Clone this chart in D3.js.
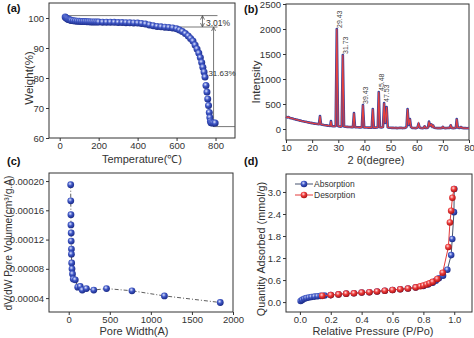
<!DOCTYPE html>
<html>
<head>
<meta charset="utf-8">
<script src="https://cdnjs.cloudflare.com/ajax/libs/d3/7.8.5/d3.min.js"></script>
<style>
  body { margin: 0; background: #fff; }
  svg { display: block; font-family: "Liberation Sans", Arial, sans-serif; }
  .tick text { fill: #333; }
  .tick line { stroke: #333; }
</style>
</head>
<body>
<div id="fig"></div>
<script>
// (a) TGA
var tgaTemp = [28,32,36,40,45,50,55,60,70,80,90,100,110,120,130,140,150,160,170,180,190,200,220,240,260,280,300,320,340,360,380,400,420,440,460,480,500,520,540,560,580,600,615,630,645,660,672,684,695,705,714,722,729,735,741,746,751,756,760,764,768,771,774,777,782,790,798];
var tgaWeight = [100.3,100.1,99.9,99.7,99.5,99.4,99.3,99.2,99.1,99.0,98.95,98.9,98.85,98.8,98.8,98.75,98.75,98.7,98.7,98.7,98.65,98.65,98.6,98.6,98.6,98.55,98.5,98.5,98.45,98.4,98.35,98.3,98.2,98.0,97.7,97.4,97.2,97.05,96.95,96.85,96.7,96.4,96.0,95.5,94.8,94.0,93.2,92.3,91.0,89.7,88.3,86.8,85.2,83.6,82.0,80.3,77.5,75.3,73.0,70.8,68.5,66.8,65.6,65.1,65.0,65.0,65.0];
var tgaTicksX = [0, 200, 400, 600, 800];
var tgaTicksY = [60, 70, 80, 90, 100];

// (b) XRD
var xrdAngle = [10.0,10.5,11.0,11.5,12.0,12.5,13.0,13.5,14.0,14.5,15.0,15.5,16.0,16.5,17.0,17.5,18.0,18.5,19.0,19.5,20.0,20.5,21.0,21.5,22.0,22.6,23.0,23.4,24.0,24.5,25.0,25.5,26.0,26.5,26.9,27.2,27.5,28.0,28.5,29.0,29.43,29.9,30.4,31.0,31.3,31.73,32.2,32.8,33.5,34.0,34.5,35.0,35.6,36.0,36.4,37.0,37.5,38.0,38.5,39.0,39.43,39.9,40.5,41.0,41.5,42.0,42.8,43.2,43.6,44.2,44.8,45.1,45.48,45.9,46.5,47.1,47.53,47.95,48.5,48.9,49.5,50.0,50.5,51.0,51.5,52.0,52.5,53.0,53.5,54.0,54.5,55.0,55.5,56.1,56.5,56.9,57.4,57.8,58.3,59.0,59.5,60.0,60.3,60.7,61.1,61.6,62.2,62.7,63.0,63.4,64.0,64.3,64.7,65.1,65.6,66.0,66.3,66.7,67.3,68.0,68.6,69.2,69.7,70.0,70.4,71.0,71.6,72.2,72.6,73.0,73.4,74.0,74.6,75.0,75.3,75.7,76.3,77.0,77.4,78.0,78.6,79.2,80.0];
var xrdCount = [245,232,238,222,215,208,200,196,185,182,172,168,160,156,148,146,138,132,128,122,118,112,108,104,100,95,260,92,86,80,76,72,68,65,62,160,60,56,54,60,2000,60,50,48,55,1480,52,45,42,40,40,38,38,320,36,34,34,32,32,34,480,32,30,30,28,28,28,400,28,27,30,35,740,35,30,40,520,120,440,35,26,24,22,22,20,22,18,20,22,24,18,20,22,40,400,80,200,40,22,20,18,22,30,110,30,20,18,20,55,20,22,30,150,60,95,40,70,25,20,18,20,18,20,45,20,18,20,22,22,75,22,18,20,30,200,30,20,40,22,18,20,16,18];
var peakLabel = ["29.43", "31.73", "39.43", "45.48", "47.53"];
var peakAngle = [29.43, 31.73, 39.43, 45.48, 47.53];
var peakTop = [2000, 1480, 480, 740, 520];
var xrdTicksX = [10, 20, 30, 40, 50, 60, 70, 80];
var xrdTicksY = [0, 500, 1000, 1500, 2000, 2500];

// (c) pore size distribution
var poreWidth = [24,25,27,27,30,30,33,33,36,40,46,55,80,110,140,165,215,305,460,770,1165,1845];
var poreVolume = [0.000195,0.000173,0.000154,0.000140,0.000129,0.000118,0.000107,0.000100,0.000088,0.000080,0.000073,0.000066,0.000065,0.000055,0.000056,0.000051,0.000053,0.000051,0.000053,0.000050,0.000043,0.000034];
var poreTicksX = [0, 500, 1000, 1500, 2000];
var poreTicksY = [0.00004, 0.00008, 0.00012, 0.00016, 0.00020];

// (d) isotherm
var absPressure = [0.005,0.015,0.028,0.042,0.058,0.075,0.095,0.115,0.135,0.16,0.2,0.25,0.3,0.35,0.4,0.45,0.5,0.55,0.6,0.65,0.7,0.75,0.8,0.83,0.86,0.88,0.9,0.927,0.955,0.98,0.987,0.998,1.0];
var absQuantity = [0.03,0.06,0.09,0.11,0.125,0.14,0.15,0.16,0.17,0.18,0.19,0.21,0.23,0.24,0.26,0.27,0.29,0.31,0.33,0.35,0.37,0.40,0.44,0.48,0.53,0.58,0.65,0.72,0.88,1.28,1.72,2.45,3.08];
var desPressure = [0.145,0.2,0.25,0.3,0.35,0.4,0.45,0.5,0.55,0.6,0.65,0.7,0.75,0.78,0.8,0.82,0.84,0.86,0.89,0.925,0.962,0.972,0.98,0.988,0.998];
var desQuantity = [0.17,0.19,0.21,0.23,0.24,0.26,0.27,0.29,0.31,0.33,0.35,0.37,0.40,0.43,0.45,0.48,0.51,0.55,0.63,0.80,1.50,2.17,2.49,2.84,3.08];
var isoTicksX = [0, 0.2, 0.4, 0.6, 0.8, 1.0];
var isoTicksY = [0, 0.6, 1.2, 1.8, 2.4, 3.0];
var seriesNames = ["Absorption", "Desorption"];

var W = 474, H = 338;
var svg = d3.select("#fig").append("svg").attr("width", W).attr("height", H);

// sphere-like marker fills
var defs = svg.append("defs");
function ball(id, c0, c1, c2) {
    var g = defs.append("radialGradient").attr("id", id)
        .attr("cx", "40%").attr("cy", "35%").attr("r", "65%");
    g.append("stop").attr("offset", "0%").attr("stop-color", c0);
    g.append("stop").attr("offset", "45%").attr("stop-color", c1);
    g.append("stop").attr("offset", "100%").attr("stop-color", c2);
}
ball("blueBall", "#dfe5ff", "#3f57c6", "#1a2a86");
ball("redBall", "#ffe0e0", "#ee3c3c", "#a81212");

// draws a framed panel, returns the scales
function panel(box, xd, yd, xt, yt, xfmt, yfmt) {
    var x = d3.scaleLinear().domain(xd).range([box.l, box.r]);
    var y = d3.scaleLinear().domain(yd).range([box.b, box.t]);
    svg.append("g")
        .attr("transform", "translate(0," + box.b + ")")
        .call(d3.axisBottom(x).tickValues(xt).tickSize(3).tickPadding(1).tickFormat(xfmt))
        .call(function(g) { g.select(".domain").remove(); })
        .selectAll("text").style("font-size", "9.5px");
    svg.append("g")
        .attr("transform", "translate(" + box.l + ",0)")
        .call(d3.axisLeft(y).tickValues(yt).tickSize(3).tickPadding(2).tickFormat(yfmt))
        .call(function(g) { g.select(".domain").remove(); })
        .selectAll("text").style("font-size", "9.5px");
    svg.append("rect")
        .attr("x", box.l).attr("y", box.t)
        .attr("width", box.r - box.l).attr("height", box.b - box.t)
        .style("fill", "none").style("stroke", "#333").style("stroke-width", 1);
    return {x: x, y: y};
}

function label(txt, px, py, size, rot, weight) {
    var t = svg.append("text")
        .attr("x", px).attr("y", py)
        .style("font-size", size + "px")
        .style("fill", "#333")
        .style("text-anchor", "middle")
        .text(txt);
    if (rot) t.attr("transform", "rotate(-90," + px + "," + py + ")");
    if (weight) t.style("font-weight", weight).style("text-anchor", "start").style("fill", "#111");
    return t;
}

// ---------- (a)
var a = panel({l: 49, r: 235, t: 3, b: 138}, [-55, 900], [60, 105], tgaTicksX, tgaTicksY, d3.format("d"), d3.format("d"));
var tga = tgaTemp.map(function(t, i) { return [t, tgaWeight[i]]; });

// annotation lines
function seg(s, x1, y1, x2, y2) {
    svg.append("line")
        .attr("x1", s.x(x1)).attr("y1", s.y(y1))
        .attr("x2", s.x(x2)).attr("y2", s.y(y2))
        .style("stroke", "#555").style("stroke-width", 0.8);
}
function arrowHead(s, xv, yv, dir) {
    var px = s.x(xv), py = s.y(yv);
    svg.append("path")
        .attr("d", "M" + (px - 2) + "," + (py + dir * 4) + "L" + px + "," + py + "L" + (px + 2) + "," + (py + dir * 4))
        .style("fill", "none").style("stroke", "#555").style("stroke-width", 0.8);
}
seg(a, 26, 100.8, 810, 100.8);
seg(a, 600, 97.0, 810, 97.0);
seg(a, 790, 63.8, 900, 63.8);
seg(a, 733, 100.8, 733, 97.0);
arrowHead(a, 733, 100.8, 1);
arrowHead(a, 733, 97.0, -1);
seg(a, 790, 97.0, 790, 63.8);
arrowHead(a, 790, 97.0, 1);
arrowHead(a, 790, 63.8, -1);

svg.append("g").selectAll("circle")
    .data(tga)
    .enter()
    .append("circle")
    .attr("cx", function(d) { return a.x(d[0]); })
    .attr("cy", function(d) { return a.y(d[1]); })
    .attr("r", 3.5)
    .style("fill", "url(#blueBall)");

label("3.01%", 218, 26, 8.5);
label("31.63%", 222, 76, 8);
label("Weight(%)", 33, 78, 11.5, true);
label("Temperature(\u2103)", 142, 163, 11);
label("(a)", 7, 12, 11, false, "bold");

// ---------- (b)
var b = panel({l: 286, r: 469, t: 4, b: 140}, [10, 80], [-220, 2500], xrdTicksX, xrdTicksY, d3.format("d"), d3.format("d"));
var xrd = xrdAngle.map(function(t, i) { return [t, xrdCount[i]]; });
var xrdLine = d3.line()
    .x(function(d) { return b.x(d[0]); })
    .y(function(d) { return b.y(d[1]); });
svg.append("path")
    .attr("d", xrdLine(xrd))
    .style("fill", "none").style("stroke", "#43449a").style("stroke-width", 2.6)
    .style("stroke-linejoin", "round");
svg.append("path")
    .attr("d", xrdLine(xrd))
    .style("fill", "none").style("stroke", "#e8403c").style("stroke-width", 1.1);

peakLabel.forEach(function(p, i) {
    var px = b.x(peakAngle[i]) + 5, py = b.y(peakTop[i]) - 1;
    svg.append("text")
        .attr("x", px).attr("y", py)
        .attr("transform", "rotate(-90," + px + "," + py + ")")
        .style("font-size", "7px").style("fill", "#444")
        .text(p);
});

label("Intensity", 260, 82, 11.5, true);
label("2 \u03b8(degree)", 376, 164, 11);
label("(b)", 244, 13, 11, false, "bold");

// ---------- (c)
var c = panel({l: 49, r: 233, t: 173, b: 312}, [-240, 2000], [0.000021, 0.000211], poreTicksX, poreTicksY, d3.format("d"), d3.format(".5f"));
var pore = poreWidth.map(function(t, i) { return [t, poreVolume[i]]; });
svg.append("path")
    .attr("d", d3.line().x(function(d) { return c.x(d[0]); }).y(function(d) { return c.y(d[1]); })(pore))
    .style("fill", "none").style("stroke", "#333").style("stroke-width", 0.8)
    .style("stroke-dasharray", "4,2,1,2");
svg.append("g").selectAll("circle")
    .data(pore)
    .enter()
    .append("circle")
    .attr("cx", function(d) { return c.x(d[0]); })
    .attr("cy", function(d) { return c.y(d[1]); })
    .attr("r", 3.4)
    .style("fill", "url(#blueBall)");

label("dV/dW Pore Volume(cm\u00b3/g.A)", 12, 243, 10.3, true);
label("Pore Width(A)", 134, 335, 11);
label("(c)", 7, 165, 11, false, "bold");

// ---------- (d)
var d = panel({l: 286, r: 472, t: 174, b: 312}, [-0.09, 1.115], [-0.27, 3.49], isoTicksX, isoTicksY, d3.format(".1f"), d3.format(".1f"));
var iso = [
    {name: seriesNames[0], line: "#46536e", fill: "url(#blueBall)",
     pts: absPressure.map(function(p, i) { return [p, absQuantity[i]]; })},
    {name: seriesNames[1], line: "#e23a3a", fill: "url(#redBall)",
     pts: desPressure.map(function(p, i) { return [p, desQuantity[i]]; })}
];
var isoLine = d3.line()
    .x(function(v) { return d.x(v[0]); })
    .y(function(v) { return d.y(v[1]); });
iso.forEach(function(s) {
    svg.append("path")
        .attr("d", isoLine(s.pts))
        .style("fill", "none").style("stroke", s.line).style("stroke-width", 1);
    svg.append("g").selectAll("circle")
        .data(s.pts)
        .enter()
        .append("circle")
        .attr("cx", function(v) { return d.x(v[0]); })
        .attr("cy", function(v) { return d.y(v[1]); })
        .attr("r", 3.3)
        .style("fill", s.fill);
});

// legend
iso.forEach(function(s, i) {
    var ly = 184 + i * 11;
    svg.append("line")
        .attr("x1", 295).attr("x2", 313).attr("y1", ly).attr("y2", ly)
        .style("stroke", s.line).style("stroke-width", 1);
    svg.append("circle").attr("cx", 304).attr("cy", ly).attr("r", 3.3).style("fill", s.fill);
    svg.append("text")
        .attr("x", 314).attr("y", ly + 3)
        .style("font-size", "8.5px").style("fill", "#333")
        .text(s.name);
});

label("Quantity Adsorbed (mmol/g)", 265, 249, 10.8, true);
label("Relative Pressure (P/Po)", 373, 335, 11);
label("(d)", 244, 165, 11, false, "bold");
</script>
</body>
</html>
